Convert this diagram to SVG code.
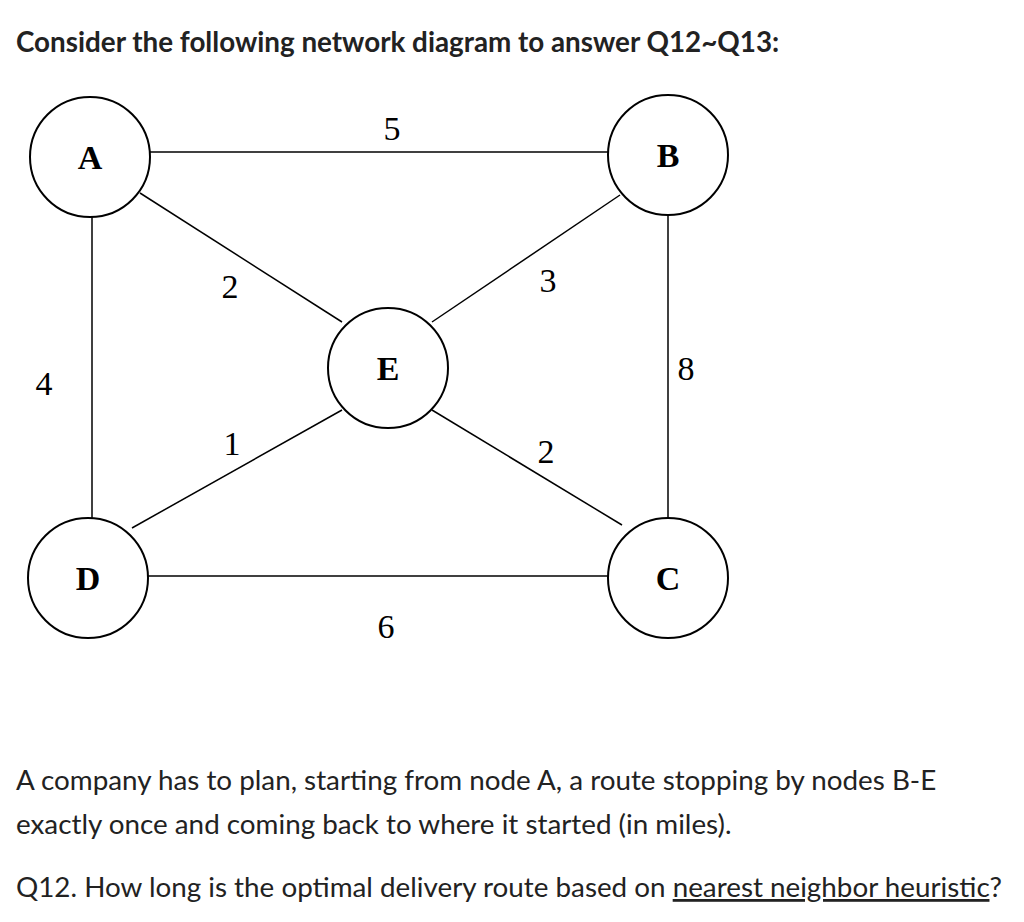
<svg xmlns="http://www.w3.org/2000/svg" width="1024" height="922" viewBox="0 0 1024 922">
<style>
.t{font-family:Lato,"Liberation Sans",sans-serif;font-size:27.8px;fill:#222}
.n{fill:#fff;stroke:#000;stroke-width:2}
.nl{font-family:"Liberation Serif",serif;font-weight:bold;font-size:34px;text-anchor:middle}
.w{font-family:"Liberation Serif",serif;font-size:34px;text-anchor:middle}
.e{stroke:#000;stroke-width:1.5;fill:none}
</style>
<rect width="1024" height="922" fill="#fff"/>
<text class="t" x="16" y="52" font-weight="bold">Consider the following network diagram to answer Q12~Q13:</text>
<g id="edges">
<line class="e" x1="150" y1="152" x2="610" y2="152"/>
<line class="e" x1="92" y1="215" x2="92" y2="520"/>
<line class="e" x1="668" y1="213" x2="668" y2="520"/>
<line class="e" x1="148" y1="576" x2="610" y2="576"/>
<line class="e" x1="140" y1="193" x2="342" y2="322"/>
<line class="e" x1="620" y1="195" x2="432" y2="322"/>
<line class="e" x1="132" y1="528" x2="342" y2="410"/>
<line class="e" x1="432" y1="410" x2="622" y2="525"/>
<text class="w" x="392" y="140">5</text>
<text class="w" x="230" y="298">2</text>
<text class="w" x="548" y="292">3</text>
<text class="w" x="44" y="395">4</text>
<text class="w" x="686" y="380">8</text>
<text class="w" x="232" y="455">1</text>
<text class="w" x="546" y="463">2</text>
<text class="w" x="386" y="638">6</text>
</g>
<g id="A"><circle class="n" cx="90" cy="157" r="60"/><text class="nl" x="90" y="169">A</text></g>
<g id="B"><circle class="n" cx="668" cy="155" r="60"/><text class="nl" x="668" y="167">B</text></g>
<g id="E"><circle class="n" cx="388" cy="368" r="60"/><text class="nl" x="388" y="380">E</text></g>
<g id="D"><circle class="n" cx="88" cy="578" r="60"/><text class="nl" x="88" y="590">D</text></g>
<g id="C"><circle class="n" cx="668" cy="578" r="60"/><text class="nl" x="668" y="590">C</text></g>
<text class="t" x="16" y="790">A company has to plan, starting from node A, a route stopping by nodes B-E</text>
<text class="t" x="16" y="834">exactly once and coming back to where it started (in miles).</text>
<text class="t" x="16" y="897">Q12. How long is the optimal delivery route based on <tspan text-decoration="underline">nearest neighbor heuristic</tspan>?</text>
</svg>
